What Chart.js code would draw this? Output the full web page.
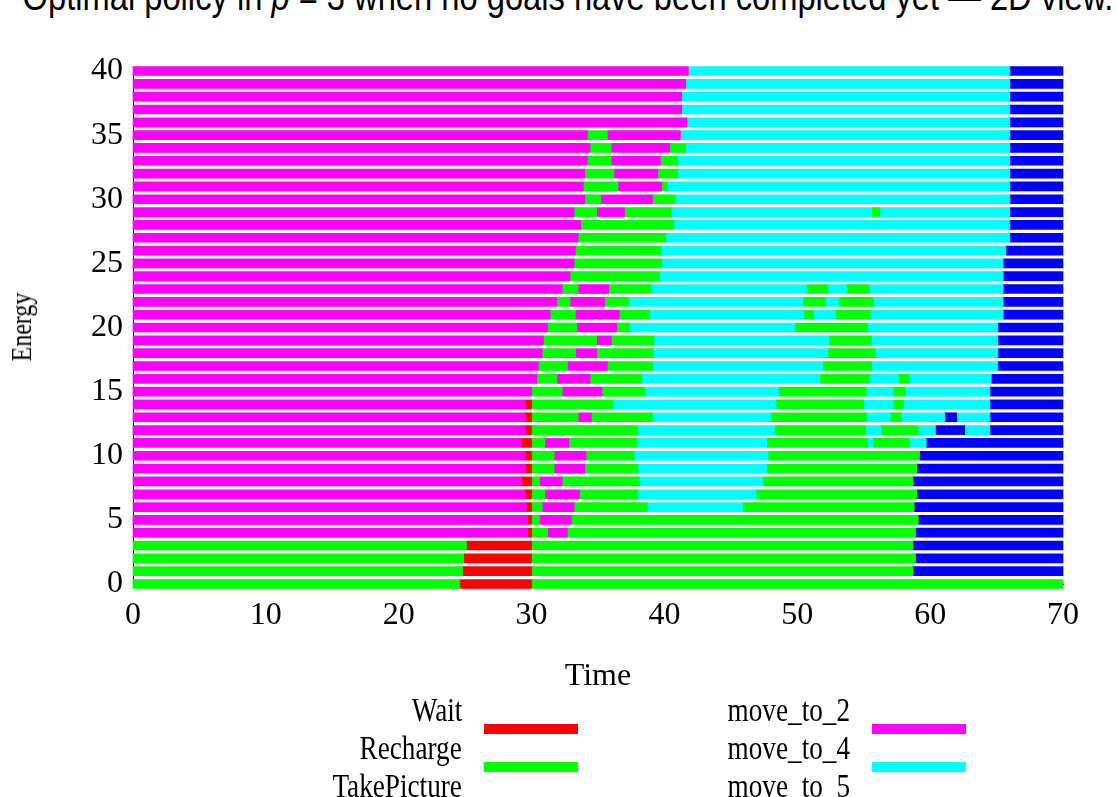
<!DOCTYPE html>
<html>
<head>
<meta charset="utf-8">
<script src="https://cdn.jsdelivr.net/npm/chart.js@4/dist/chart.umd.min.js"></script>
<style>
body { margin:0; width:1117px; height:797px; overflow:hidden; background:#fff; position:relative; }
#title { position:absolute; top:-24px; right:4px; white-space:nowrap; font-family:"Liberation Sans",sans-serif; font-size:38px; transform:scaleX(0.86); transform-origin:right; }
#wrap { position:absolute; left:0; top:0; width:1117px; height:700px; }
#ylab { position:absolute; left:-22px; top:310px; font-family:"Liberation Serif",serif; font-size:30px; transform:rotate(-90deg) scaleX(0.8); }
.leg { position:absolute; font-family:"Liberation Serif",serif; font-size:34px; transform:scaleX(0.8); transform-origin:right; text-align:right; white-space:nowrap; }
.sw { position:absolute; width:94px; height:10px; }
</style>
</head>
<body>
<div id="title">Optimal policy in <i>p</i> = 3 when no goals have been completed yet — 2D view.</div>
<div id="wrap"><canvas id="myChart"></canvas></div>
<div id="ylab">Energy</div>
<div id="legend"></div>
<script>
// energy levels (rows)
var energy = [];
for (var i = 0; i <= 40; i++) energy.push(String(i));

var actionNames = ["Wait", "Recharge", "TakePicture", "move_to_2", "move_to_4", "move_to_5"];
var actionCodes = ["W", "R", "T", "M", "C", "B"];
var actionColors = ["#ff0000", "#00ff00", "#ffff00", "#ff00ff", "#00ffff", "#0000ff"];

// actions per row (one letter per segment) and the end time of each segment
var rowActs = [
  "RWR", "RWRB", "RWRB", "RWRB",
  "MWRMRB", "MWRMRB", "MWRMRCRB", "MWRMRCRB", "MWRMRCRB", "MWRMRCRB", "MWRMRCRB",
  "MWRMRCRCRCB", "MWRCRCRCBCB", "MWRMRCRCRCBCB", "MWRCRCRCB", "MRMRCRCRCB",
  "MRMRCRCRCB", "MRMRCRCB", "MRMRCRCB", "MRMRCRCB", "MRMRCRCB",
  "MRMRCRCRCB", "MRMRCRCRCB", "MRMRCRCRCB",
  "MRCB", "MRCB", "MRCB", "MRCB", "MRCB",
  "MRMRCRCB", "MRMRCB", "MRMRCB", "MRMRCB", "MRMRCB", "MRMRCB", "MRMCB",
  "MCB", "MCB", "MCB", "MCB", "MCB"
];
var rowEnds = [
  [24.6, 30, 70], [24.8, 30, 58.7, 70], [24.9, 30, 58.9, 70], [25.1, 30, 58.7, 70],
  [29.7, 30, 31.2, 32.7, 58.9, 70],
  [29.7, 30, 30.6, 33.0, 59.1, 70],
  [29.6, 30, 30.8, 33.2, 38.7, 45.9, 58.8, 70],
  [29.5, 30, 31.0, 33.6, 38.0, 46.9, 59.0, 70],
  [29.25, 30, 30.6, 32.3, 38.1, 47.4, 58.7, 70],
  [29.5, 30, 31.7, 34.0, 38.0, 47.7, 59.0, 70],
  [29.5, 30, 31.7, 34.1, 37.7, 47.8, 59.2, 70],
  [29.2, 30, 31.0, 32.8, 37.9, 47.7, 55.3, 55.7, 58.4, 59.7, 70],
  [29.5, 30, 38.0, 48.3, 55.1, 56.3, 59.1, 60.4, 62.6, 64.5, 70],
  [29.5, 30, 33.5, 34.5, 39.1, 48.0, 55.2, 57.0, 57.8, 61.1, 62.0, 64.5, 70],
  [29.5, 30, 36.1, 48.4, 55.0, 57.2, 58.0, 64.5, 70],
  [30, 32.3, 35.3, 38.5, 48.6, 55.2, 57.2, 58.1, 64.5, 70],
  [30.4, 31.9, 34.4, 38.3, 51.7, 55.4, 57.6, 58.4, 64.6, 70],
  [30.5, 32.7, 35.7, 39.1, 51.9, 55.6, 65.1, 70],
  [30.8, 33.3, 34.9, 39.1, 52.3, 55.9, 65.1, 70],
  [30.9, 34.9, 36.0, 39.2, 52.4, 55.6, 65.1, 70],
  [31.2, 33.4, 36.4, 37.4, 49.8, 55.3, 65.1, 70],
  [31.4, 33.3, 36.6, 38.9, 50.5, 51.2, 52.9, 55.5, 65.5, 70],
  [31.9, 32.9, 35.5, 37.3, 50.4, 52.1, 53.1, 55.7, 65.5, 70],
  [32.3, 33.5, 35.8, 39.0, 50.7, 52.3, 53.7, 55.4, 65.5, 70],
  [32.9, 39.6, 65.5, 70],
  [33.2, 39.8, 65.5, 70],
  [33.3, 39.7, 65.7, 70],
  [33.5, 40.1, 66.0, 70],
  [33.7, 40.7, 66.0, 70],
  [33.2, 34.9, 37.0, 40.5, 55.6, 56.2, 66.0, 70],
  [34.0, 35.2, 39.1, 40.8, 66.0, 70],
  [33.9, 36.5, 39.8, 40.2, 66.0, 70],
  [34.0, 36.2, 39.5, 41.0, 66.0, 70],
  [34.2, 36.0, 39.7, 41.0, 66.0, 70],
  [34.4, 36.0, 40.4, 41.6, 66.0, 70],
  [34.2, 35.7, 41.2, 66.0, 70],
  [41.7, 66.0, 70], [41.3, 66.0, 70], [41.3, 66.0, 70], [41.6, 66.0, 70], [41.8, 66.0, 70]
];
var xTicks = [0, 10, 20, 30, 40, 50, 60, 70];

// one dataset per segment index
var maxSeg = 0;
for (var r = 0; r < rowActs.length; r++) maxSeg = Math.max(maxSeg, rowActs[r].length);
var datasets = [];
for (var k = 0; k < maxSeg; k++) {
    var data = [], colors = [];
    for (var r = 0; r < rowActs.length; r++) {
        if (k < rowActs[r].length) {
            var start = k == 0 ? 0 : rowEnds[r][k - 1];
            data.push([start, rowEnds[r][k]]);
            colors.push(actionColors[actionCodes.indexOf(rowActs[r][k])]);
        } else {
            data.push(null);
            colors.push("#fff");
        }
    }
    datasets.push({ data: data, backgroundColor: colors, barThickness: 9, borderWidth: 0, clip: false, grouped: false });
}

new Chart(document.getElementById("myChart"), {
    type: "bar",
    data: { labels: energy, datasets: datasets },
    options: {
        indexAxis: "y",
        responsive: true,
        maintainAspectRatio: false,
        animation: false,
        layout: { padding: { top: 71, right: 54, left: 0, bottom: 0 } },
        plugins: { legend: { display: false }, tooltip: { enabled: false } },
        scales: {
            x: {
                type: "linear", min: 0, max: 70,
                afterBuildTicks: function (s) { s.ticks = xTicks.map(function (v) { return { value: v }; }); },
                afterFit: function (s) { s.height = 116; },
                grid: { display: false, drawTicks: false },
                border: { color: "#000" },
                ticks: { color: "#000", padding: 12, font: { family: "Liberation Serif", size: 32 } },
                title: { display: true, text: "Time", color: "#000", padding: { top: 6 }, font: { family: "Liberation Serif", size: 32 } }
            },
            y: {
                type: "category", reverse: true, offset: false,
                afterFit: function (s) { s.width = 133; },
                grid: { display: false, drawTicks: false },
                border: { color: "#000" },
                ticks: {
                    color: "#000", padding: 10, autoSkip: false,
                    font: { family: "Liberation Serif", size: 32 },
                    callback: function (v, i) { return i % 5 == 0 ? energy[i] : null; }
                }
            }
        }
    }
});

// gnuplot-style legend: text then colour sample, two columns
var leg = document.getElementById("legend");
var legRight = [462, 850];
var legTop = [712, 750, 788];
var legSw = [484, 872];
for (var i = 0; i < actionNames.length; i++) {
    var col = i < 3 ? 0 : 1, row = i % 3;
    var t = document.createElement("div");
    t.className = "leg";
    t.textContent = actionNames[i];
    t.style.right = (1117 - legRight[col]) + "px";
    t.style.top = (legTop[row] - 21) + "px";
    leg.appendChild(t);
    var sw = document.createElement("div");
    sw.className = "sw";
    sw.style.left = legSw[col] + "px";
    sw.style.top = (legTop[row] + 17 - 5) + "px";
    sw.style.background = actionColors[i];
    leg.appendChild(sw);
}
</script>
</body>
</html>
